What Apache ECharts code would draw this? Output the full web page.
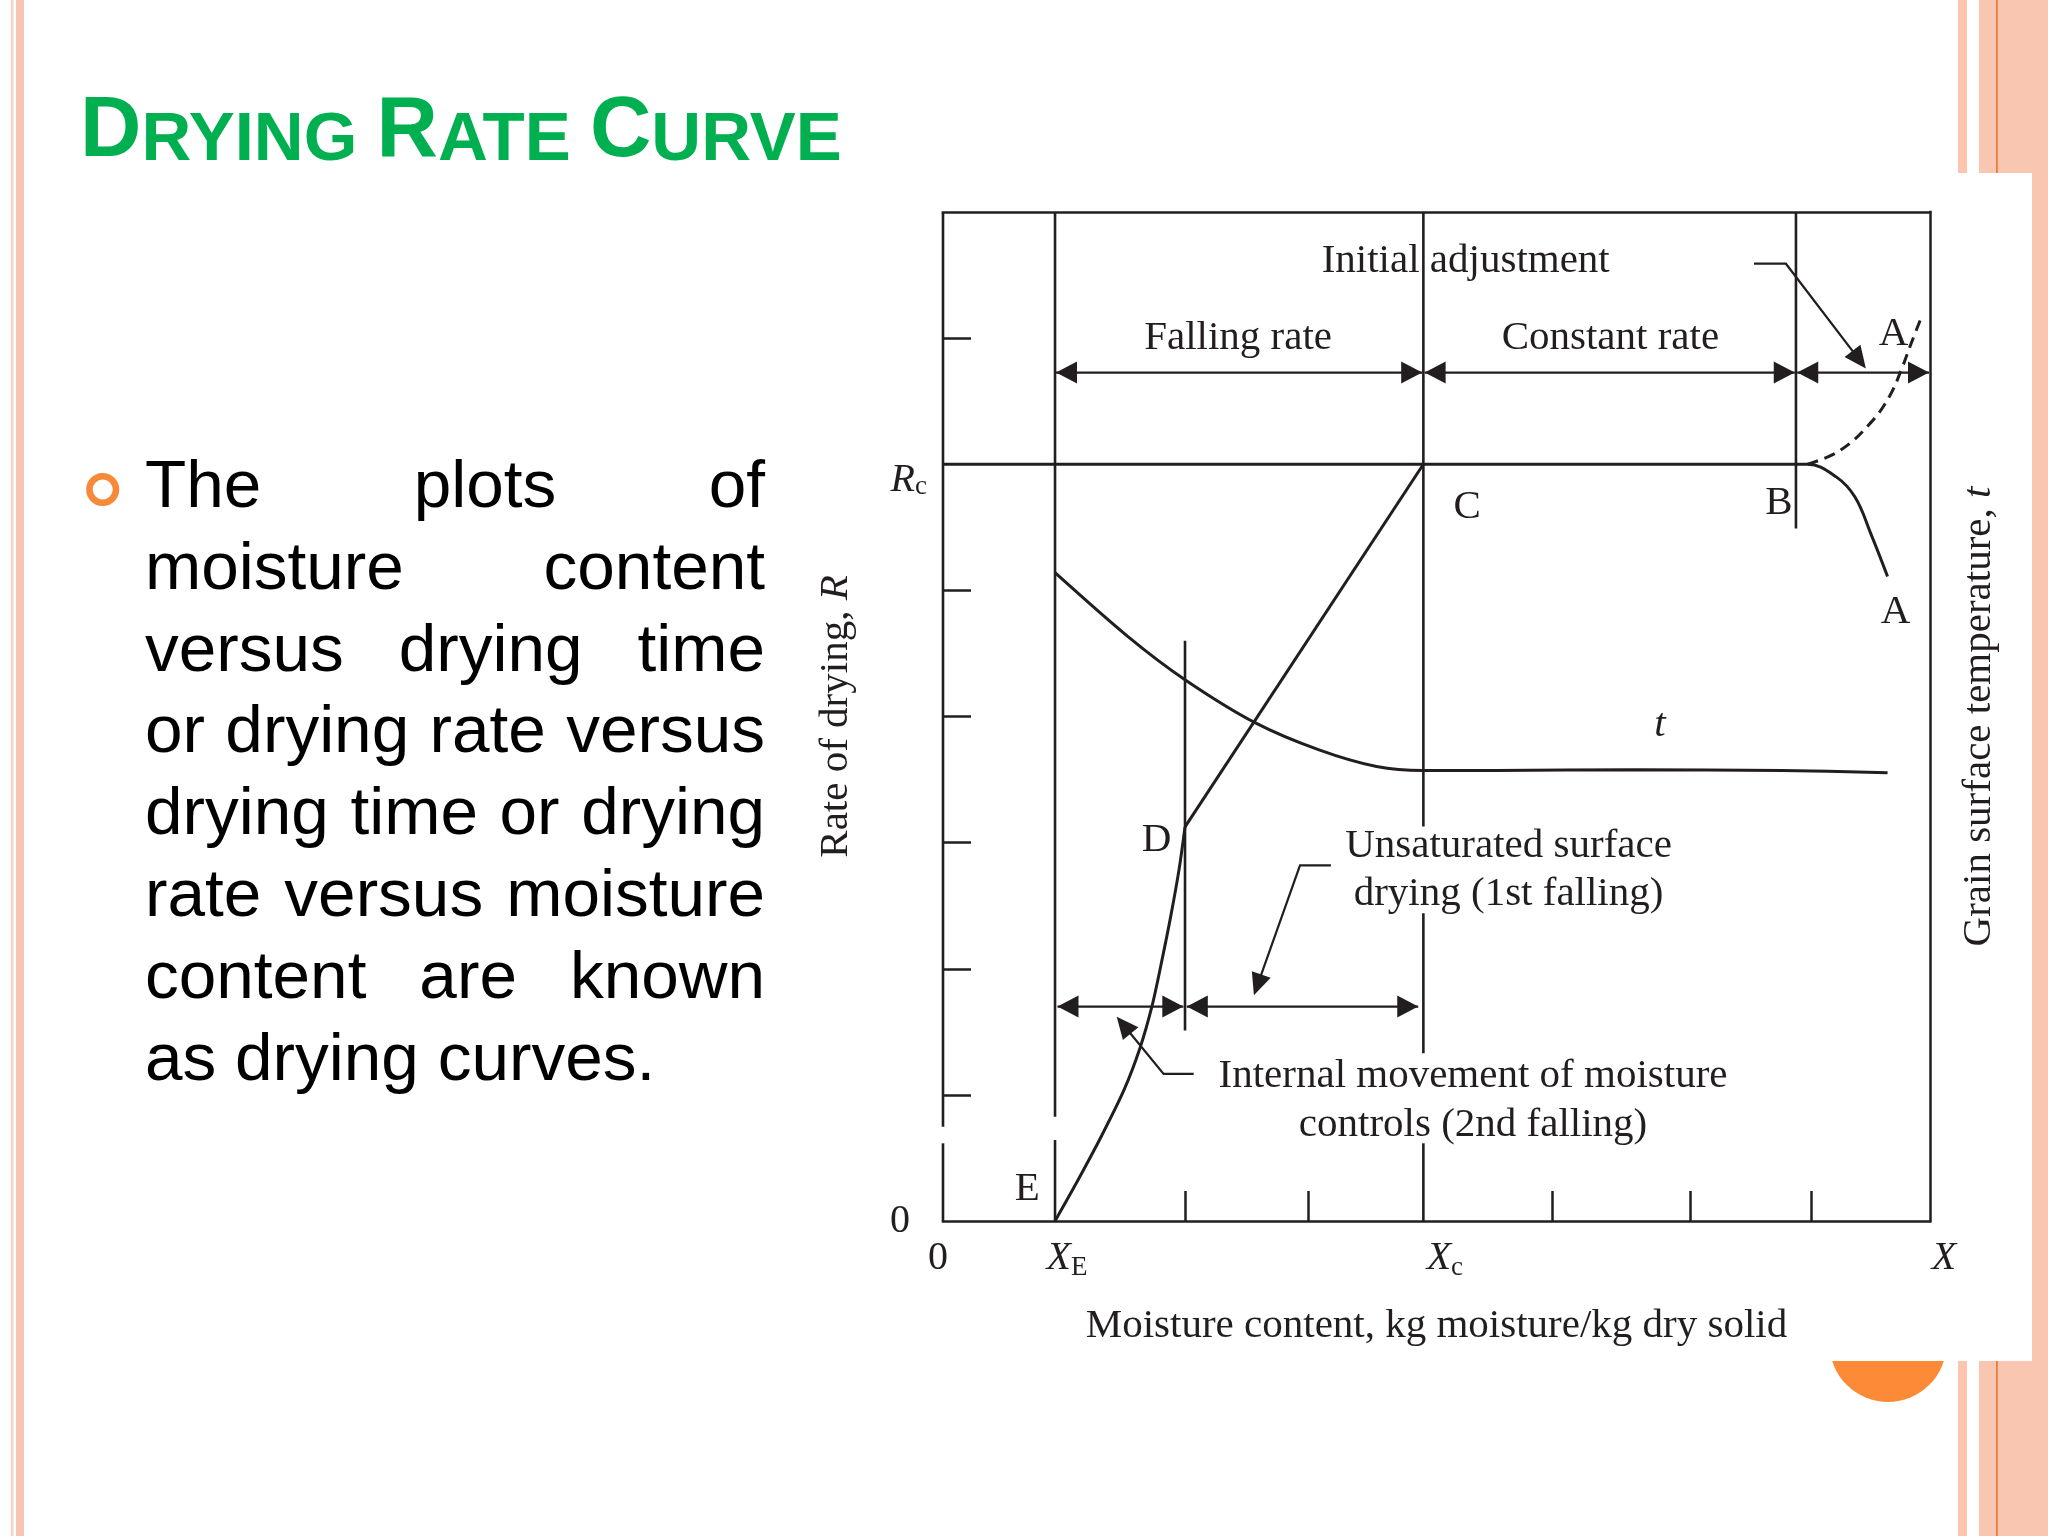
<!DOCTYPE html>
<html>
<head>
<meta charset="utf-8">
<script src="https://cdn.jsdelivr.net/npm/echarts@6.0.0/dist/echarts.min.js"></script>
<style>
html,body{margin:0;padding:0;background:#ffffff;}
#c{width:2048px;height:1536px;}
</style>
</head>
<body>
<div id="c"></div>
<script>
// ---------------- data ----------------
const xTickValues = [24.52, 37.05, 61.7, 75.66, 87.94];
const yTickValues = [1, 2, 3, 4, 5, 7];
const xLabelValues = [0, 11.35, 48.67, 100];
const xLabelTexts = ['{z|0}', '{xe|X}{s|E}', '{xc|X}{s|c}', '{xx|X}'];
const yLabelValues = [0, 6];
const yLabelTexts = ['{z|0}', '{sp|\u200b}{r|R}{s|c}'];

// drying-rate curve pieces (x: moisture content, y: rate)
const rateSecondFalling = [[11.35,0],[13.68,0.325],[16.11,0.682],[18.34,1.039],[19.96,1.372],[21.18,1.705],[22.19,2.07],[23.1,2.427],[23.91,2.784],[24.52,3.125]];
const rateFirstFalling = [[24.52,3.125],[48.67,6]];
const rateConstant = [[48.67,6],[86.42,6]];
const rateWarmupDown = [[86.42,6],[87.6,6],[90.5,5.9],[92.4,5.74],[94.0,5.45],[95.7,5.11]];
const rateWarmupUp = [[87.6,6],[90.9,6.11],[94.0,6.33],[95.9,6.54],[97.1,6.75],[98.1,6.96],[99.2,7.18]];
const rcLine = [[0,6],[48.67,6]];
// grain surface temperature curve t
const surfaceTemp = [[11.35,5.141],[18.74,4.634],[24.55,4.29],[31.71,3.947],[38.1,3.735],[43.93,3.603],[48.66,3.571],[56,3.572],[70,3.578],[85,3.572],[95.7,3.555]];

// vertical reference lines / frame pieces [x1,y1,x2,y2]
const vLineSegments = [
  [0,0,0,0.616],[0,0.748,0,8],
  [11.35,0,11.35,0.642],[11.35,0.827,11.35,8],
  [24.52,1.51,24.52,4.6],
  [48.67,0,48.67,0.616],[48.67,1.33,48.67,2.44],[48.67,3.127,48.67,8],
  [86.42,5.49,86.42,8]
];
// double-headed span arrows [x1,y1,x2,y2]
const spanArrows = [
  [11.45,6.727,48.55,6.727],
  [48.8,6.727,86.3,6.727],
  [86.55,6.727,99.9,6.727],
  [11.6,1.70,24.35,1.70],
  [24.7,1.70,48.15,1.70]
];
// leader arrows [x1,y1,x2,y2,x3,y3] (head at last point)
const pointerArrows = [
  [82.17,7.59,85.4,7.59,93.5,6.76],
  [39.3,2.82,36.17,2.82,31.5,1.79],
  [25.4,1.166,22.35,1.166,17.6,1.62]
];
// annotations
const noteTexts = ['Initial adjustment','Falling rate','Constant rate','A','A','C','B','t','D','E',
  'Unsaturated surface','drying (1st falling)','Internal movement of moisture','controls (2nd falling)'];
const noteAnchors = [[52.96,7.61],[29.9,7.0],[67.62,7.0],[96.3,7.03],[96.5,4.83],[53.1,5.66],[84.7,5.69],
  [72.65,3.93],[21.64,3.02],[8.55,0.25],[57.3,2.97],[57.3,2.588],[53.7,1.144],[53.7,0.761]];
const noteItalic = [false,false,false,false,false,false,false,true,false,false,false,false,false,false];

const titleRuns = [['b','D'],['s','RYING '],['b','R'],['s','ATE '],['b','C'],['s','URVE']];
const paraLines = [
  ['The','plots','of'],
  ['moisture','content'],
  ['versus','drying','time'],
  ['or','drying','rate','versus'],
  ['drying','time','or','drying'],
  ['rate','versus','moisture'],
  ['content','are','known'],
  ['as','drying','curves.']
];

// ---------------- styles ----------------
const INK = '#221e1f';
const SERIF = '"Liberation Serif", "Times New Roman", serif';
const SANS = '"Liberation Sans", Arial, sans-serif';
const NOTE_SIZE = 41;

const chart = echarts.init(document.getElementById('c'), null, {renderer: 'canvas', width: 2048, height: 1536});

function head(tip, from, len, half) {
  const dx = tip[0] - from[0], dy = tip[1] - from[1];
  const d = Math.hypot(dx, dy) || 1;
  const ux = dx / d, uy = dy / d;
  const bx = tip[0] - ux * len, by = tip[1] - uy * len;
  return [[tip[0], tip[1]], [bx - uy * half, by + ux * half], [bx + uy * half, by - ux * half]];
}

function labelFor(values, texts) {
  return function (v) {
    for (let i = 0; i < values.length; i++) if (Math.abs(values[i] - v) < 1e-6) return texts[i];
    return '';
  };
}

// ---------------- slide graphics ----------------
const graphics = [];
// left decorative stripes
graphics.push({type:'rect', z:-5, shape:{x:11, y:0, width:2.5, height:1536}, style:{fill:'#fbd2c3'}});
graphics.push({type:'rect', z:-5, shape:{x:16, y:0, width:8, height:1536}, style:{fill:'#f8c5b3'}});
// right decorative stripes
graphics.push({type:'rect', z:-5, shape:{x:1958, y:0, width:9, height:1536}, style:{fill:'#fbc5b0'}});
graphics.push({type:'rect', z:-5, shape:{x:1979, y:0, width:69, height:1536}, style:{fill:'#f9c6b2'}});
graphics.push({type:'rect', z:-5, shape:{x:1996, y:0, width:1.8, height:1536}, style:{fill:'#ef7c3c'}});
// orange circle (partially hidden behind the picture)
graphics.push({type:'circle', z:-4, shape:{cx:1888, cy:1343.5, r:58.5}, style:{fill:'#fd8a36'}});
// white picture background
graphics.push({type:'rect', z:-3, shape:{x:800, y:173, width:1232, height:1188}, style:{fill:'#ffffff'}});

// title with small caps
const titleText = titleRuns.map(r => '{' + r[0] + '|' + r[1] + '}').join('');
graphics.push({
  type:'text', z:1, x:80, y:90,
  style:{
    text:titleText, align:'left', verticalAlign:'top',
    rich:{
      b:{fontFamily:SANS, fontWeight:'bold', fontSize:85, fill:'#00b050', verticalAlign:'bottom'},
      s:{fontFamily:SANS, fontWeight:'bold', fontSize:69, fill:'#00b050', verticalAlign:'bottom'}
    }
  }
});

// bullet
graphics.push({type:'circle', z:1, shape:{cx:102.7, cy:489.5, r:13.3}, style:{fill:'none', stroke:'#f68a3a', lineWidth:6.5}});

// justified paragraph
(function () {
  const size = 67.5;
  const cv = document.createElement('canvas');
  const ctx = cv.getContext('2d');
  ctx.font = size + 'px ' + SANS;
  const left = 145, right = 765, base0 = 511.5, step = 81.9;
  const spaceW = ctx.measureText(' ').width;
  paraLines.forEach((words, li) => {
    const widths = words.map(w => ctx.measureText(w).width);
    const total = widths.reduce((a, b) => a + b, 0);
    const last = li === paraLines.length - 1;
    const gap = (last || words.length < 2) ? spaceW : (right - left - total) / (words.length - 1);
    let x = left;
    const y = base0 + li * step - size * 0.3465;
    words.forEach((w, wi) => {
      graphics.push({type:'text', z:1, x:x, y:y,
        style:{text:w, fontFamily:SANS, fontSize:size, fill:'#000000', align:'left', verticalAlign:'middle'}});
      x += widths[wi] + gap;
    });
  });
})();

// ---------------- chart ----------------
const lineBase = {type:'line', symbol:'none', silent:true, xAxisIndex:0, yAxisIndex:0,
  lineStyle:{color:INK, width:3}, z:3};

const option = {
  animation: false,
  backgroundColor: '#ffffff',
  graphic: {elements: graphics},
  grid: {left: 943, right: 118, top: 212, bottom: 315, containLabel: false, outerBoundsMode: 'none'},
  xAxis: [
    {
      type:'value', position:'bottom', min:0, max:100,
      axisLine:{show:true, onZero:false, lineStyle:{color:INK, width:2.5, cap:'square'}},
      axisTick:{show:true, inside:true, length:30, customValues:xTickValues, lineStyle:{color:INK, width:2.5}},
      axisLabel:{
        show:true, customValues:xLabelValues, margin:12, formatter:labelFor(xLabelValues, xLabelTexts),
        rich:{
          z:{fontFamily:SERIF, fontSize:40, color:INK, lineHeight:50, padding:[0,10,0,0]},
          xe:{fontFamily:SERIF, fontSize:40, fontStyle:'italic', color:INK, lineHeight:50, padding:[0,0,0,24]},
          xc:{fontFamily:SERIF, fontSize:40, fontStyle:'italic', color:INK, lineHeight:50, padding:[0,0,0,43]},
          xx:{fontFamily:SERIF, fontSize:40, fontStyle:'italic', color:INK, lineHeight:50, padding:[0,0,0,28]},
          s:{fontFamily:SERIF, fontSize:27, color:INK, verticalAlign:'bottom', padding:[0,0,2,0]}
        }
      },
      splitLine:{show:false},
      name:'Moisture content, kg moisture/kg dry solid', nameLocation:'middle', nameGap:85,
      nameTextStyle:{fontFamily:SERIF, fontSize:NOTE_SIZE, color:INK}
    },
    {
      type:'value', position:'top', min:0, max:100,
      axisLine:{show:true, onZero:false, lineStyle:{color:INK, width:2.5, cap:'square'}},
      axisTick:{show:false}, axisLabel:{show:false}, splitLine:{show:false}
    }
  ],
  yAxis: [
    {
      type:'value', position:'left', min:0, max:8,
      axisLine:{show:false},
      axisTick:{show:true, inside:true, length:28, customValues:yTickValues, lineStyle:{color:INK, width:2.5}},
      axisLabel:{
        show:true, customValues:yLabelValues, margin:16, formatter:labelFor(yLabelValues, yLabelTexts),
        rich:{
          z:{fontFamily:SERIF, fontSize:40, color:INK, lineHeight:50, padding:[0,17,0,0]},
          sp:{fontFamily:SERIF, fontSize:2, color:INK, lineHeight:72},
          r:{fontFamily:SERIF, fontSize:40, fontStyle:'italic', color:INK, lineHeight:56, verticalAlign:'bottom'},
          s:{fontFamily:SERIF, fontSize:27, color:INK, verticalAlign:'bottom'}
        }
      },
      splitLine:{show:false},
      name:'{a|Rate of drying, }{i|R}', nameLocation:'middle', nameGap:86,
      nameTextStyle:{fontFamily:SERIF, fontSize:NOTE_SIZE, color:INK,
        rich:{a:{fontFamily:SERIF, fontSize:NOTE_SIZE, color:INK}, i:{fontFamily:SERIF, fontSize:NOTE_SIZE, fontStyle:'italic', color:INK}}}
    },
    {
      type:'value', position:'right', min:0, max:8,
      axisLine:{show:true, onZero:false, lineStyle:{color:INK, width:2.5, cap:'square'}},
      axisTick:{show:false}, axisLabel:{show:false}, splitLine:{show:false},
      name:'{a|Grain surface temperature, }{i|t}', nameLocation:'middle', nameGap:29, nameRotate:90,
      nameTextStyle:{fontFamily:SERIF, fontSize:NOTE_SIZE, color:INK,
        rich:{a:{fontFamily:SERIF, fontSize:NOTE_SIZE, color:INK}, i:{fontFamily:SERIF, fontSize:NOTE_SIZE, fontStyle:'italic', color:INK}}}
    }
  ],
  series: [
    Object.assign({}, lineBase, {name:'Rc', data:rcLine, lineStyle:{color:INK, width:2.8}}),
    Object.assign({}, lineBase, {name:'rate 2nd falling', data:rateSecondFalling, smooth:0.3}),
    Object.assign({}, lineBase, {name:'rate 1st falling', data:rateFirstFalling}),
    Object.assign({}, lineBase, {name:'rate constant', data:rateConstant, lineStyle:{color:INK, width:2.8}}),
    Object.assign({}, lineBase, {name:'warm-up (cooling)', data:rateWarmupDown, smooth:0.4}),
    Object.assign({}, lineBase, {name:'warm-up (heating)', data:rateWarmupUp, smooth:0.4,
      lineStyle:{color:INK, width:3, type:[11,7]}}),
    Object.assign({}, lineBase, {name:'surface temperature', data:surfaceTemp, yAxisIndex:1, smooth:0.3}),
    {
      type:'custom', name:'reference lines', coordinateSystem:'cartesian2d', silent:true, z:3,
      data: vLineSegments, encode:{x:[0,2], y:[1,3]},
      renderItem: function (params, api) {
        const p1 = api.coord([api.value(0), api.value(1)]);
        const p2 = api.coord([api.value(2), api.value(3)]);
        return {type:'line', shape:{x1:p1[0], y1:p1[1], x2:p2[0], y2:p2[1]},
          style:{stroke:INK, lineWidth:2.6}};
      }
    },
    {
      type:'custom', name:'span arrows', coordinateSystem:'cartesian2d', silent:true, z:3,
      data: spanArrows, encode:{x:[0,2], y:[1,3]},
      renderItem: function (params, api) {
        const p1 = api.coord([api.value(0), api.value(1)]);
        const p2 = api.coord([api.value(2), api.value(3)]);
        return {type:'group', children:[
          {type:'line', shape:{x1:p1[0], y1:p1[1], x2:p2[0], y2:p2[1]}, style:{stroke:INK, lineWidth:2.2}},
          {type:'polygon', shape:{points:head(p1, p2, 21, 11)}, style:{fill:INK}},
          {type:'polygon', shape:{points:head(p2, p1, 21, 11)}, style:{fill:INK}}
        ]};
      }
    },
    {
      type:'custom', name:'leader arrows', coordinateSystem:'cartesian2d', silent:true, z:3,
      data: pointerArrows, encode:{x:[0,2,4], y:[1,3,5]},
      renderItem: function (params, api) {
        const p1 = api.coord([api.value(0), api.value(1)]);
        const p2 = api.coord([api.value(2), api.value(3)]);
        const p3 = api.coord([api.value(4), api.value(5)]);
        const h = head(p3, p2, 22, 10);
        const d = Math.hypot(p3[0]-p2[0], p3[1]-p2[1]);
        const k = (d - 12) / d;
        const pe = [p2[0] + (p3[0]-p2[0])*k, p2[1] + (p3[1]-p2[1])*k];
        return {type:'group', children:[
          {type:'polyline', shape:{points:[p1, p2, pe]}, style:{stroke:INK, lineWidth:2.2, fill:'none'}},
          {type:'polygon', shape:{points:h}, style:{fill:INK}}
        ]};
      }
    },
    {
      type:'custom', name:'annotations', coordinateSystem:'cartesian2d', silent:true, z:4,
      data: noteAnchors, encode:{x:0, y:1},
      renderItem: function (params, api) {
        const p = api.coord([api.value(0), api.value(1)]);
        const i = params.dataIndex;
        return {type:'text', x:p[0], y:p[1],
          style:{text:noteTexts[i], fontFamily:SERIF, fontSize:NOTE_SIZE,
            fontStyle: noteItalic[i] ? 'italic' : 'normal', fill:INK, align:'center', verticalAlign:'middle'}};
      }
    }
  ]
};
chart.setOption(option);
</script>
</body>
</html>
